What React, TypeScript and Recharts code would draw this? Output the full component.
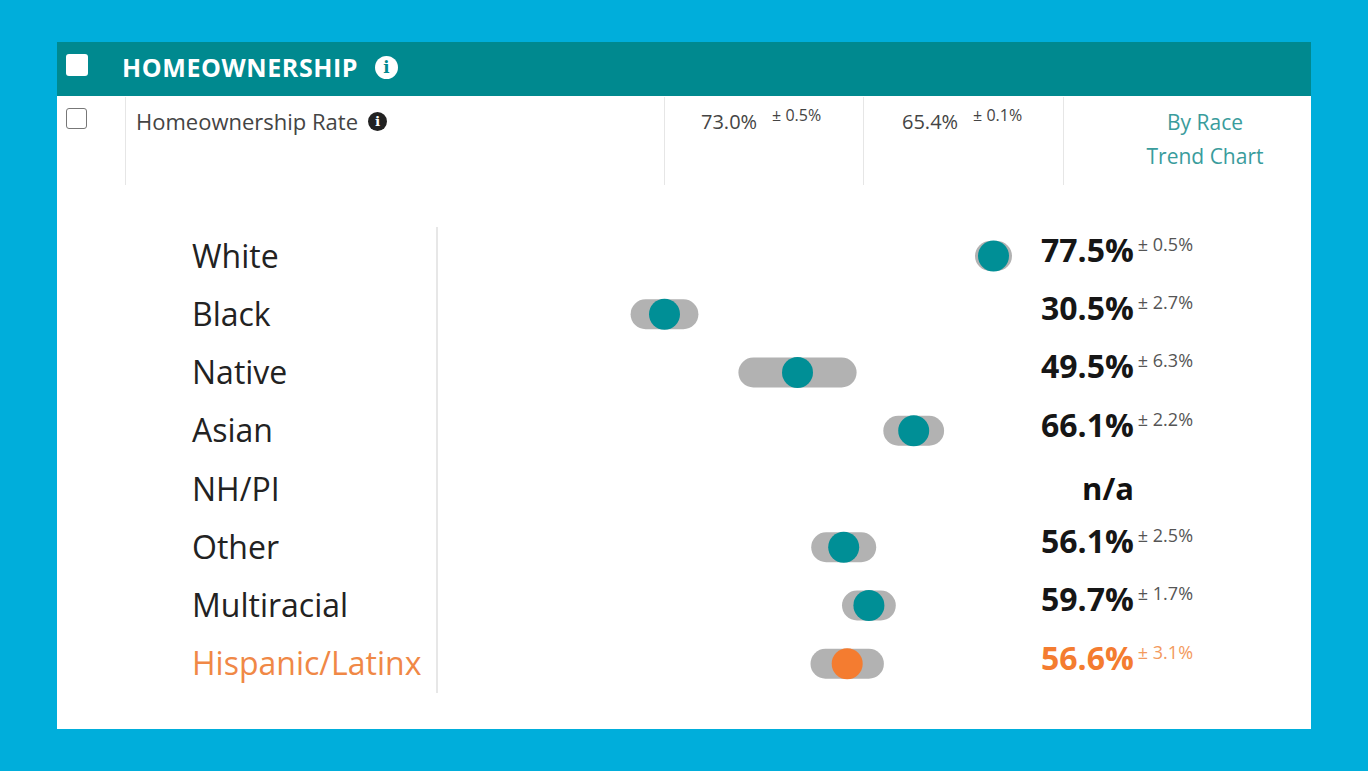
import React from 'react';
import { ComposedChart, Bar, XAxis, YAxis } from 'recharts';

// homeownership rate by race, with margin of error
const races = ['White', 'Black', 'Native', 'Asian', 'NH/PI', 'Other', 'Multiracial', 'Hispanic/Latinx'];
const rates: (number | null)[] = [77.5, 30.5, 49.5, 66.1, null, 56.1, 59.7, 56.6];
const moes: (number | null)[] = [0.5, 2.7, 6.3, 2.2, null, 2.5, 1.7, 3.1];
const highlight = 'Hispanic/Latinx';

const overallRates = ['73.0%', '65.4%'];
const overallMoes = ['± 0.5%', '± 0.1%'];

const TEAL = '#00898f';
const ORANGE = '#f47c30';
const FONT = '"Open Sans", "DejaVu Sans", sans-serif';

const data = races.map((race, i) => ({
    race,
    rate: rates[i],
    moe: moes[i],
    range: rates[i] == null ? null : [rates[i]! - moes[i]!, rates[i]! + moes[i]!],
}));

const NAME_X = 135;
const VALUE_X = 984;
const NA_X = 1051;

const Pill = (props: any) => {
    const { x, y, width, height, payload } = props;
    if (payload.rate == null || width == null) return <g />;
    const r = height / 2;
    const dot = payload.race === highlight ? ORANGE : '#008f96';
    return (
        <g>
            <rect x={x - r} y={y} width={width + 2 * r} height={height} rx={r} ry={r} fill="#b2b2b2" />
            <circle cx={x + width / 2} cy={y + r} r={15.5} fill={dot} />
        </g>
    );
};

const RowTick = (props: any) => {
    const { y, payload } = props;
    const i = races.indexOf(payload.value);
    const isHl = payload.value === highlight;
    const color = isHl ? ORANGE : '#161616';
    const nameColor = isHl ? '#f08846' : '#222';
    return (
        <g>
            <text x={NAME_X} y={y} dy="0.36em" fontSize={32} fill={nameColor} fontFamily={FONT}>
                {payload.value}
            </text>
            {rates[i] == null ? (
                <text x={NA_X} y={y} dy="0.36em" fontSize={31} fontWeight={700} textAnchor="middle" fill="#111" fontFamily={FONT}>
                    n/a
                </text>
            ) : (
                <text x={VALUE_X} y={y} dy="0.36em" fill={color} fontFamily={FONT}>
                    <tspan fontSize={32} fontWeight={700}>{rates[i]!.toFixed(1)}%</tspan>
                    <tspan fontSize={18} dx={4} dy={-11} fill={isHl ? '#f39a5e' : '#555'}>± {moes[i]!.toFixed(1)}%</tspan>
                </text>
            )}
        </g>
    );
};

const Checkbox = ({ top, filled }: { top: number; filled?: boolean }) => (
    <div
        style={{
            position: 'absolute',
            left: 66,
            top,
            width: filled ? 22 : 19,
            height: filled ? 22 : 19,
            borderRadius: 3,
            background: '#fff',
            border: filled ? 'none' : '1.5px solid #777',
        }}
    />
);

const Info = ({ left, top, size, bg, fg }: { left: number; top: number; size: number; bg: string; fg: string }) => (
    <div
        style={{
            position: 'absolute',
            left,
            top,
            width: size,
            height: size,
            borderRadius: '50%',
            background: bg,
            color: fg,
            fontFamily: 'Georgia, "DejaVu Serif", serif',
            fontWeight: 700,
            fontSize: size * 0.72,
            lineHeight: `${size}px`,
            textAlign: 'center',
        }}
    >
        i
    </div>
);

const sep = (left: number) => (
    <div key={left} style={{ position: 'absolute', left, top: 97, width: 1, height: 88, background: '#e6e6e6' }} />
);

export default function App() {
    return (
        <div style={{ position: 'absolute', left: 0, top: 0, width: 1368, height: 771, background: '#00aedb', fontFamily: FONT }}>
            <div style={{ position: 'absolute', left: 57, top: 42, width: 1254, height: 687, background: '#fff' }} />
            <div style={{ position: 'absolute', left: 57, top: 42, width: 1254, height: 54, background: TEAL }} />
            <Checkbox top={54} filled />
            <div style={{ position: 'absolute', left: 122, top: 50, color: '#fff', fontSize: 25, fontWeight: 700, lineHeight: '34px', letterSpacing: 0.6 }}>
                HOMEOWNERSHIP
            </div>
            <Info left={375} top={56} size={23} bg="#fff" fg={TEAL} />

            <Checkbox top={108} />
            {[125, 664, 863, 1063].map(sep)}
            <div style={{ position: 'absolute', left: 136, top: 107, color: '#444', fontSize: 22, lineHeight: '28px' }}>
                Homeownership Rate
            </div>
            <Info left={368} top={112} size={19} bg="#222" fg="#fff" />
            {overallRates.map((v, i) => (
                <div key={v} style={{ position: 'absolute', left: 701 + i * 201, top: 108, color: '#444', fontSize: 20, lineHeight: '28px', whiteSpace: 'nowrap' }}>
                    {v}
                    <span style={{ fontSize: 16, position: 'relative', top: -8, marginLeft: 15 }}>{overallMoes[i]}</span>
                </div>
            ))}
            <div style={{ position: 'absolute', left: 1105, top: 105, width: 200, textAlign: 'center', color: '#3a9c9c', fontSize: 21, lineHeight: '34px' }}>
                By Race
                <br />
                Trend Chart
            </div>

            <div style={{ position: 'absolute', left: 57, top: 197 }}>
                <ComposedChart
                    width={1254}
                    height={530}
                    layout="vertical"
                    data={data}
                    margin={{ top: 30, right: 279, bottom: 34, left: 0 }}
                >
                    <XAxis type="number" domain={[-2, 83]} hide />
                    <YAxis
                        type="category"
                        dataKey="race"
                        width={380}
                        axisLine={{ stroke: '#cfcfcf' }}
                        tickLine={false}
                        tickSize={0}
                        tick={<RowTick />}
                        interval={0}
                    />
                    <Bar dataKey="range" barSize={30} shape={<Pill />} isAnimationActive={false} />
                </ComposedChart>
            </div>
        </div>
    );
}
